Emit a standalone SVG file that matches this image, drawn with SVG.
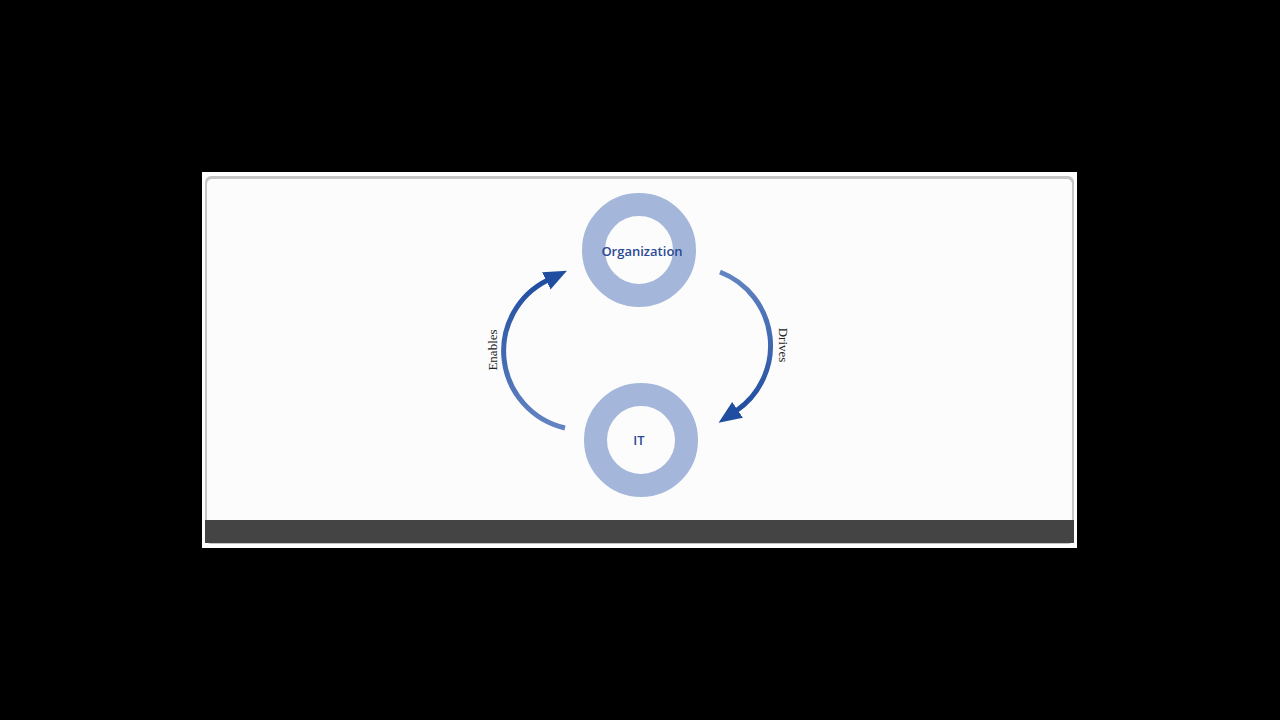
<svg xmlns="http://www.w3.org/2000/svg" width="1280" height="720" viewBox="0 0 1280 720">
  <defs>
    <style>
      .ring { fill: none; stroke: #A4B7DA; stroke-width: 23; }
      .label { font-family: "Open Sans", "Liberation Sans", sans-serif; font-weight: 600; font-size: 13px; fill: #2B4A94; text-anchor: middle; }
      .edge-label { font-family: "Liberation Serif", serif; font-size: 13px; fill: #222; text-anchor: middle; }
      .arc { fill: none; stroke-width: 5; stroke-linecap: butt; }
    </style>
    <linearGradient id="gUp" x1="0" y1="1" x2="0" y2="0">
      <stop offset="0" stop-color="#6384C2"/>
      <stop offset="1" stop-color="#1F4EA0"/>
    </linearGradient>
    <linearGradient id="gDown" x1="0" y1="0" x2="0" y2="1">
      <stop offset="0" stop-color="#6384C2"/>
      <stop offset="1" stop-color="#1F4EA0"/>
    </linearGradient>
    <marker id="head" viewBox="0 0 12 10" refX="1" refY="5" markerWidth="4.6" markerHeight="4" orient="auto" markerUnits="strokeWidth">
      <path d="M0,0 L12,5 L0,10 Z" fill="#1F4EA0"/>
    </marker>
  </defs>

  <rect x="0" y="0" width="1280" height="720" fill="#000"/>
  <rect x="202" y="172" width="875" height="376" fill="#FFFFFF"/>
  <rect x="205" y="176" width="869" height="368" rx="6" fill="#C6C6C6"/>
  <rect x="207" y="179" width="865" height="364" rx="5" fill="#FDFCFD"/>
  <rect x="205" y="520" width="869" height="23" fill="#444444"/>

  <g id="connectors">
    <path class="arc" d="M565,428 A79,79 0 0 1 548,280" stroke="url(#gUp)" marker-end="url(#head)"/>
    <path class="arc" d="M720,272 A79,79 0 0 1 736,411" stroke="url(#gDown)" marker-end="url(#head)"/>
    <text class="edge-label" transform="translate(497,350) rotate(-90)">Enables</text>
    <text class="edge-label" transform="translate(779,345) rotate(90)">Drives</text>
  </g>

  <g id="organization">
    <circle class="ring" cx="639" cy="250" r="45.5"/>
    <text class="label" x="642" y="255.5">Organization</text>
  </g>

  <g id="it">
    <circle class="ring" cx="641" cy="440" r="45.5"/>
    <text class="label" x="639" y="445">IT</text>
  </g>
</svg>
